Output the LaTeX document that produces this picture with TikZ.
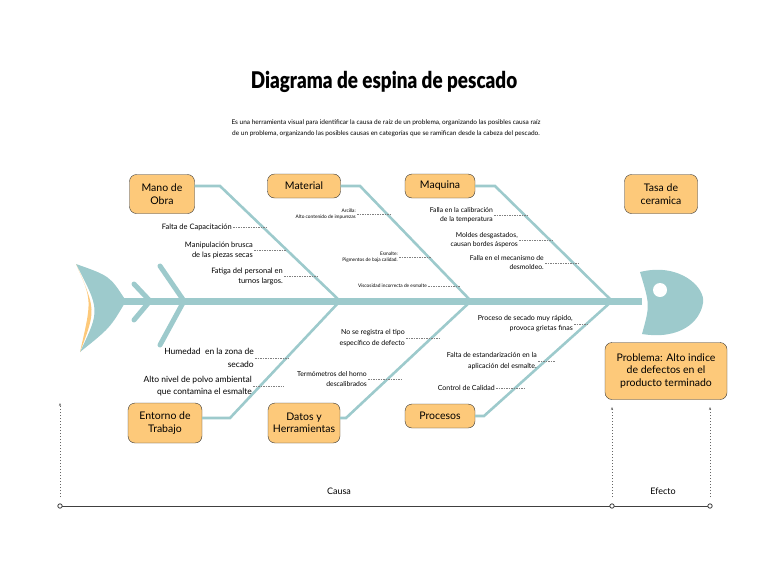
\documentclass[tikz,border=0pt]{standalone}
\usepackage{fontspec}
\setmainfont{Lato}
\newfontfamily\titlefont[FakeStretch=0.82]{Lato Black}
\usetikzlibrary{arrows.meta}
\definecolor{teal1}{HTML}{9DCACC}
\definecolor{org}{HTML}{FDC97A}
\tikzset{
 box/.style={draw=black!80,fill=org,rounded corners=7pt,align=center,font=\fontsize{10.5}{12.5}\selectfont,inner sep=2pt},
 bone/.style={teal1,line width=2.6pt},
 lbl/.style={align=right,anchor=east,font=\fontsize{7.5}{10}\selectfont,inner sep=1pt},
 tiny/.style={align=right,anchor=east,font=\fontsize{4.8}{6}\selectfont,inner sep=1pt},
 ld/.style={gray,line width=0.5pt,dash pattern=on 1.5pt off 1pt},
 ax/.style={gray!80!black,line width=0.5pt,dash pattern=on 1.5pt off 1.5pt,-{Stealth[length=3pt]}}
}
\begin{document}
\begin{tikzpicture}[x=1pt,y=-1pt]
\useasboundingbox (0,0) rectangle (768,576);
\node[font=\fontsize{23}{24}\titlefont] (title) at (384,82) {Diagrama de espina de pescado};
\node[align=center,font=\fontsize{6.5}{11}\selectfont] (sub) at (386,128) {Es una herramienta visual para identificar la causa de raíz de un problema, organizando las posibles causa raíz\\de un problema, organizando las posibles causas en categorías que se ramifican desde la cabeza del pescado.};
% tail
\fill[teal1] (76,264) .. controls (110,276) .. (126,301) .. controls (110,328) .. (80,352) .. controls (100,310) .. (76,264);
\fill[org] (76,264) .. controls (92,300) .. (80,352) .. controls (96,310) .. (76,264);
% head
\fill[teal1] (640,272) .. controls (680,262) and (706,288) .. (703,303) .. controls (700,322) and (680,340) .. (642,334) .. controls (650,305) .. (640,272);
\fill[white] (660,290) circle (7);
% spine
\draw[teal1,line width=7pt] (118,301) -- (642,301);
\draw[bone,line width=5pt,line cap=round] (134,284) -- (150,301) -- (134,320);
\draw[bone,line width=5pt,line cap=round] (160,266) -- (184,301) -- (160,345);
% boxes
\node[box,minimum width=65pt,minimum height=39pt] (mano) at (162,194) {Mano de\\Obra};
\node[box,minimum width=73pt,minimum height=24pt] (mat) at (304,186) {Material};
\node[box,minimum width=70pt,minimum height=24pt] (maq) at (440,186) {Maquina};
\node[box,minimum width=73pt,minimum height=39pt] (tasa) at (661,194) {Tasa de\\ceramica};
\node[box,minimum width=74pt,minimum height=40pt] (ent) at (165,423) {Entorno de\\Trabajo};
\node[box,minimum width=72pt,minimum height=40pt] (dat) at (304,423) {Datos y\\Herramientas};
\node[box,minimum width=70pt,minimum height=24pt] (pro) at (440,416) {Procesos};
\node[box,minimum width=122pt,minimum height=57pt] (prob) at (666,371) {Problema: Alto indice\\de defectos en el\\producto terminado};
% bones
\coordinate (j1) at (340,301); \coordinate (j2) at (471,301); \coordinate (j3) at (612,301);
\draw[bone] (mano.east |- 0,186) -- (220,186) -- (j1);
\draw[bone] (mat.east) -- (360,186) -- (j2);
\draw[bone] (maq.east) -- (495,186) -- (j3);
\draw[bone] (ent.east |- 0,418) -- (230,418) -- (j1);
\draw[bone] (dat.east |- 0,418) -- (346,418) -- (j2);
\draw[bone] (pro.east) -- (484,416) -- (j3);
% labels Mano de Obra
\node[lbl] (a1) at (233,227) {Falta de Capacitación}; \draw[ld] (a1.east) -- +(34,0);
\node[lbl] (a2) at (254,250) {Manipulación brusca\\de las piezas secas}; \draw[ld] (a2.east) -- +(32,0);
\node[lbl] (a3) at (284,276) {Fatiga del personal en\\turnos largos.}; \draw[ld] (a3.east) -- +(34,0);
% Material
\node[tiny] (b1) at (357,214) {Arcilla:\\Alto contenido de impurezas}; \draw[ld] (b1.east) -- +(34,0);
\node[tiny] (b2) at (399,257) {Esmalte:\\Pigmentos de baja calidad.}; \draw[ld] (b2.east) -- +(32,0);
\node[tiny] (b3) at (428,286) {Viscosidad incorrecta de esmalte}; \draw[ld] (b3.east) -- +(32,0);
% Maquina
\node[lbl,font=\fontsize{6.8}{9}\selectfont] (c1) at (494,215) {Falla en la calibración\\de la temperatura}; \draw[ld] (c1.east) -- +(34,0);
\node[lbl,font=\fontsize{6.8}{9}\selectfont] (c2) at (519,240) {Moldes desgastados,\\causan bordes ásperos}; \draw[ld] (c2.east) -- +(33,0);
\node[lbl,font=\fontsize{6.8}{9}\selectfont] (c3) at (545,263) {Falla en el mecanismo de\\desmoldeo.}; \draw[ld] (c3.east) -- +(33,0);
% Entorno
\node[lbl,font=\fontsize{8.5}{13}\selectfont] (d1) at (255,358) {Humedad\ \ en la zona de\\secado}; \draw[ld] (d1.east) -- +(34,0);
\node[lbl,font=\fontsize{8.5}{12}\selectfont] (d2) at (253,386) {Alto nivel de polvo ambiental\\que contamina el esmalte}; \draw[ld] (d2.east) -- +(31,0);
% Datos
\node[lbl,font=\fontsize{7}{11}\selectfont] (e1) at (406,338) {No se registra el tipo\\específico de defecto}; \draw[ld] (e1.east) -- +(34,0);
\node[lbl,font=\fontsize{6.8}{9.5}\selectfont] (e2) at (368,379) {Termómetros del horno\\descalibrados}; \draw[ld] (e2.east) -- +(33,0);
% Procesos
\node[lbl,font=\fontsize{7}{10}\selectfont] (f1) at (574,324) {Proceso de secado muy rápido,\\provoca grietas finas}; \draw[ld] (f1.east) -- +(15,0);
\node[lbl,font=\fontsize{7}{11}\selectfont] (f2) at (538,361) {Falta de estandarización en la\\aplicación del esmalte.}; \draw[ld] (f2.east) -- +(17,0);
\node[lbl,font=\fontsize{7}{9}\selectfont] (f3) at (496,388) {Control de Calidad}; \draw[ld] (f3.east) -- +(30,0);
% axis
\coordinate (p0) at (60,506); \coordinate (p1) at (612,506); \coordinate (p2) at (710,506);
\draw[black!75,line width=1pt] (p0) -- (p2);
\foreach \p in {p0,p1,p2} \draw[black!75,fill=white,line width=0.8pt] (\p) circle (2.2);
\draw[ax] (60,497) -- (60,403);
\draw[ax] (612,497) -- (612,407);
\draw[ax] (710,497) -- (710,407);
\node[font=\fontsize{9}{10}\selectfont] (causa) at (339,491) {Causa};
\node[font=\fontsize{9}{10}\selectfont] (efecto) at (663,491) {Efecto};
\end{tikzpicture}
\end{document}
